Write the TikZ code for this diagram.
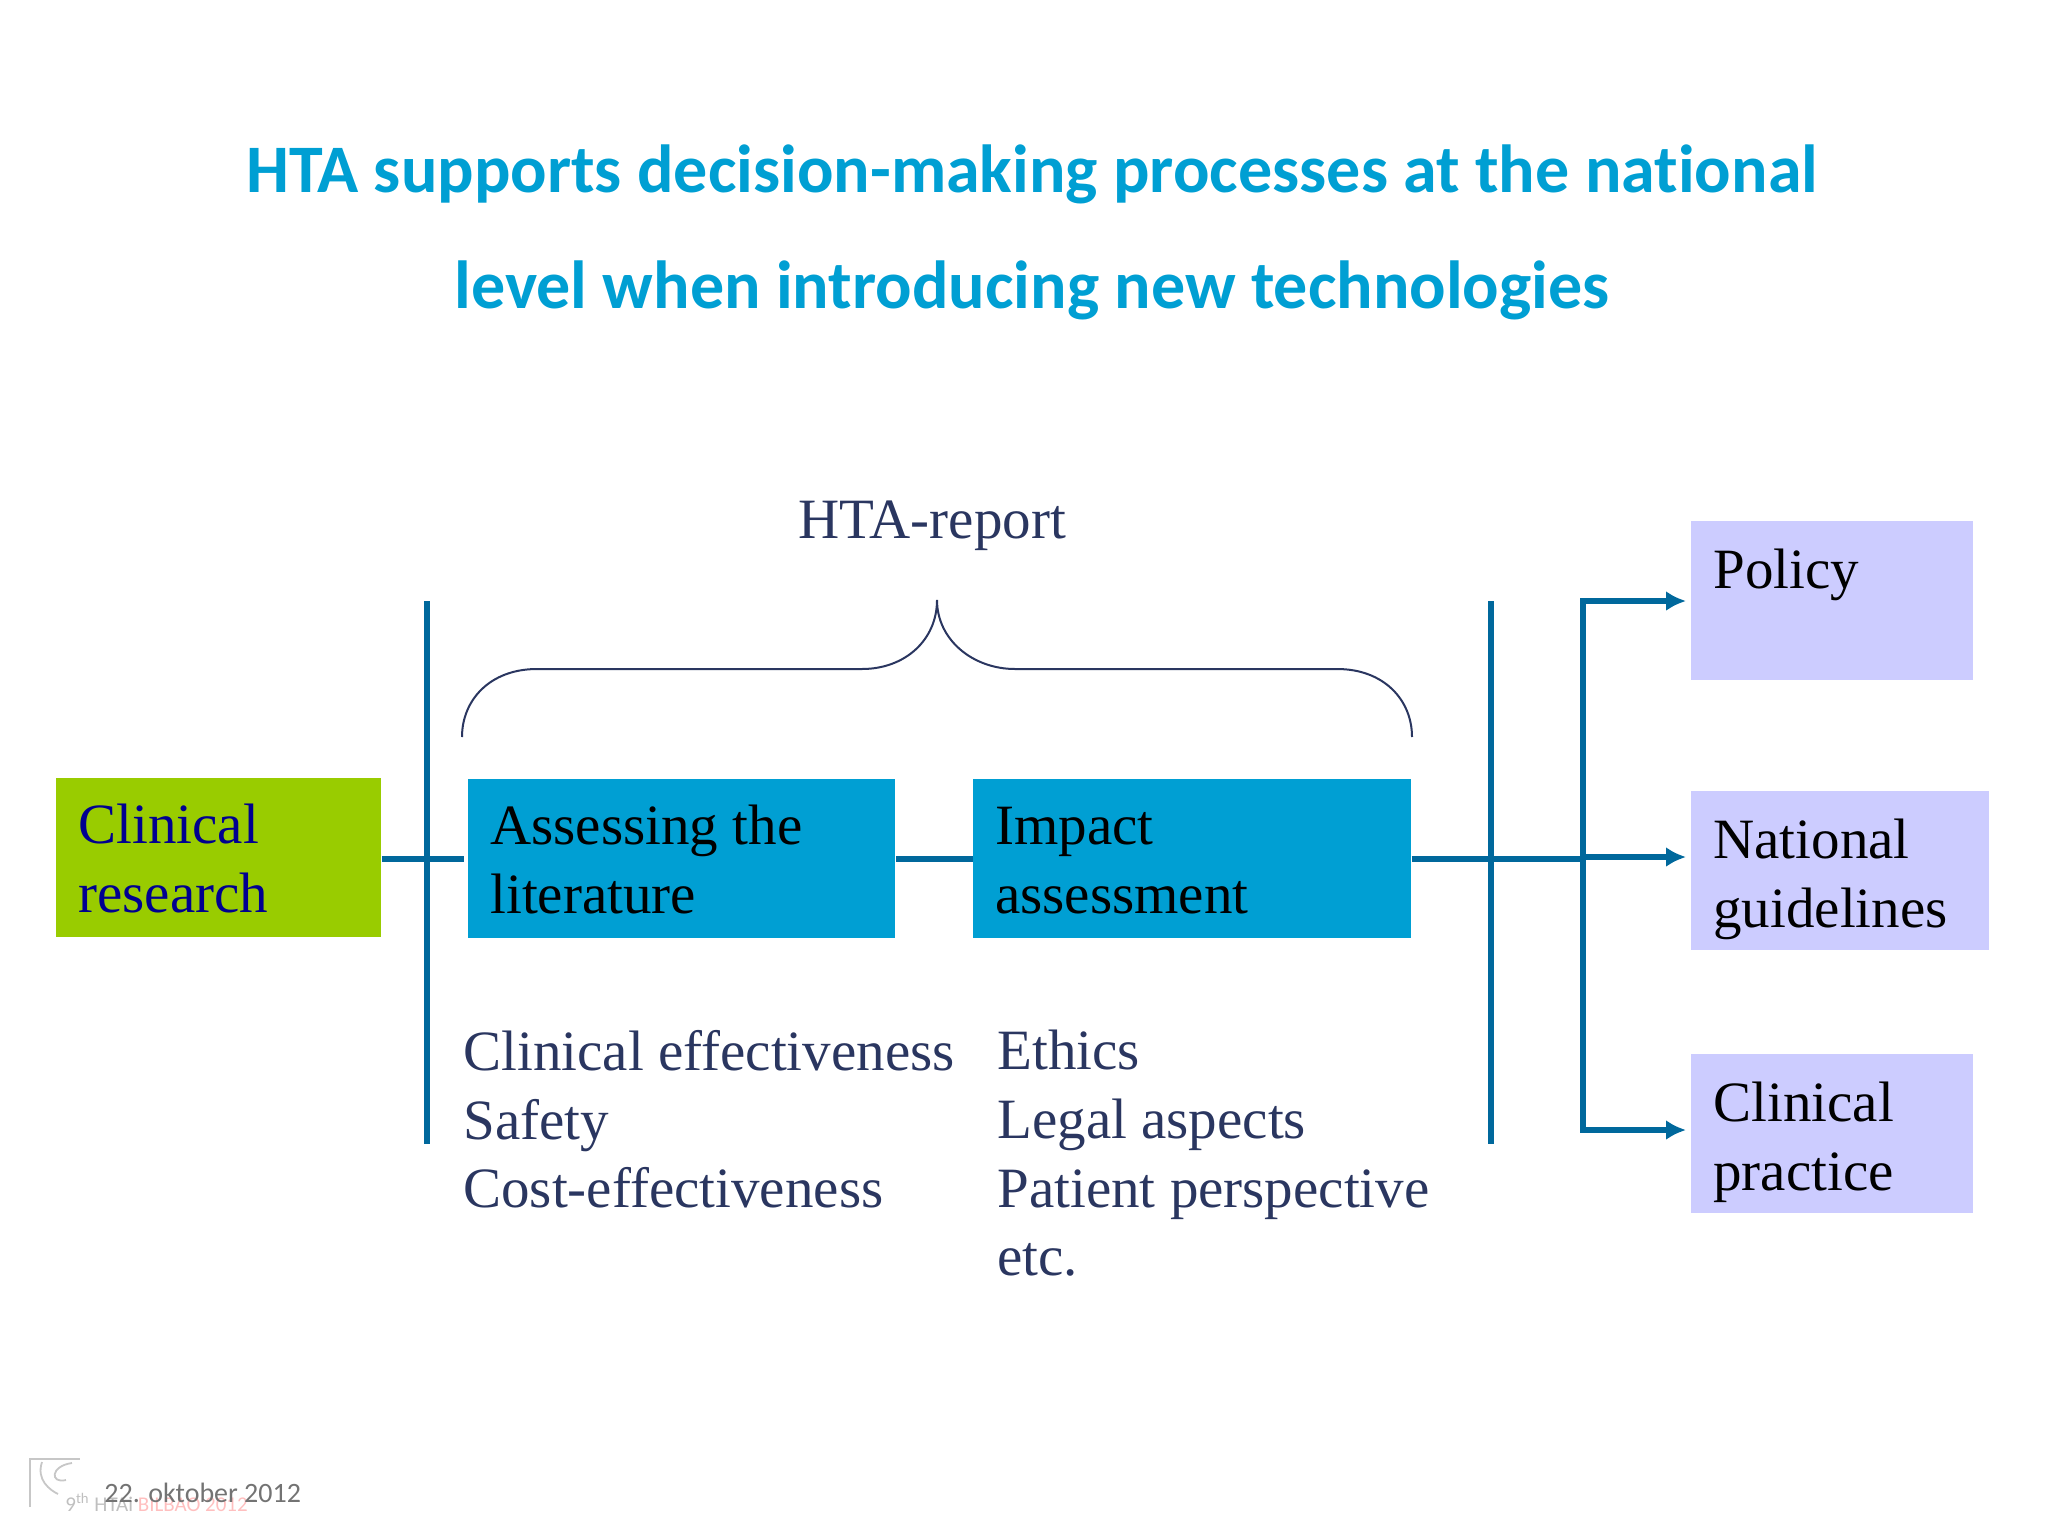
\documentclass[tikz,border=0pt]{standalone}
\usepackage{fontspec}
\setmainfont{Liberation Serif}
\newfontfamily\titlefont[Ligatures=NoCommon]{Carlito}
\usetikzlibrary{arrows.meta, positioning}
\definecolor{titleblue}{HTML}{009FD3}
\definecolor{lineblue}{HTML}{00689C}
\definecolor{slatenavy}{HTML}{2A3660}
\definecolor{limebox}{HTML}{99CC00}
\definecolor{lavender}{HTML}{CCCCFF}
\definecolor{deepblue}{HTML}{000090}
\tikzstyle{block} = [rectangle, anchor=north west, inner xsep=11pt, inner ysep=0pt, minimum height=79.5pt, text height=20pt, text depth=34pt, align=flush left, font=\fontsize{28.5}{34.3}\selectfont]
\tikzstyle{study} = [block, fill=limebox, text=deepblue, text width=140.5pt]
\tikzstyle{stage} = [block, fill=titleblue, text=black]
\tikzstyle{outcome} = [block, fill=lavender, text=black, text depth=32pt]
\tikzstyle{label} = [anchor=north west, inner sep=0pt, align=left, text=slatenavy, font=\fontsize{28.5}{34.3}\selectfont]
\tikzstyle{headline} = [inner sep=0pt, text=titleblue, font=\titlefont\bfseries\fontsize{34}{34}\selectfont]
\tikzstyle{barline} = [lineblue, line width=2.8pt]
\tikzstyle{arrow} = [barline, -{Latex[length=10pt, width=10pt]}]
\tikzstyle{logoline} = [black!22, line width=0.9pt]
\begin{document}
\begin{tikzpicture}[x=0.5pt, y=-0.5pt]
\useasboundingbox (0,0) rectangle (2048,1536);

% Title
\node (title1) [headline] at (1032,174) {HTA supports decision-making processes at the national};
\node (title2) [headline] at (1032,290) {level when introducing new technologies};

% Boxes along the line
\node (research) [study] at (56,778) {Clinical\\research};
\node (assess) [stage, text width=191.5pt] at (468,779) {Assessing the\\literature};
\node (impact) [stage, text width=197pt, right=38.5pt of assess.north east, anchor=north west] {Impact\\assessment};

% Outcome boxes
\node (policy) [outcome, text width=119pt] at (1691,521) {Policy};
\node (guidelines) [outcome, text width=127pt] at (1691,791) {National\\guidelines};
\node (practice) [outcome, text width=119pt] at (1691,1054) {Clinical\\practice};

% Texts
\node (report) [label] at (798,500) {HTA-report};
\node (effects) [label] at (463,1030) {Clinical effectiveness\\Safety\\Cost-effectiveness};
\node (aspects) [label] at (997,1030) {Ethics\\Legal aspects\\Patient perspective\\etc.};

% Bars and junction
\coordinate (bar1top) at (427,601);
\coordinate (bar1bot) at (427,1144);
\coordinate (bar2top) at (1491,601);
\coordinate (bar2bot) at (1491,1144);
\coordinate (forktop) at (1583,601);
\coordinate (forkmid) at (1583,859);
\coordinate (forkbot) at (1583,1130);
\draw [barline] (bar1top) -- (bar1bot);
\draw [barline] (bar2top) -- (bar2bot);

% Connectors
\draw [barline, shorten >=2pt] (research.east |- forkmid) -- (assess.west |- forkmid);
\draw [barline] (assess.east |- forkmid) -- (impact.west |- forkmid);
\draw [barline] (impact.east |- forkmid) -- (forkmid);

% Arrows to outcomes
\draw [arrow] (forkmid) -- (forktop) -- (1686,601);
\draw [arrow] (forkmid) -- (forkbot) -- (1686,1130);
\draw [arrow] (forkmid) ++(0,-2) -- (1686,857);

% Brace over the report
\draw [slatenavy, line width=1pt] (462,737) .. controls (462,700) and (490,669) .. (537,669) -- (862,669) .. controls (905,669) and (937,640) .. (937,600) .. controls (937,640) and (973,669) .. (1015,669) -- (1337,669) .. controls (1384,669) and (1412,700) .. (1412,737);

% Footer
\draw [logoline] (30,1507) -- (30,1459) -- (80,1459);
\draw [logoline] (42,1462) .. controls (36,1480) and (50,1490) .. (58,1494) (72,1463) .. controls (50,1466) and (50,1484) .. (66,1480);
\node (logotext) [inner sep=0pt, text=black!25, font=\titlefont\fontsize{10.5}{10.5}\selectfont, anchor=west] at (65,1502) {9\textsuperscript{th} HTAi {\color{red!25}BILBAO 2012}};
\node (date) [inner sep=0pt, text=black!55, font=\titlefont\fontsize{14}{14}\selectfont, anchor=west] at (104,1493) {22. oktober 2012};
\end{tikzpicture}
\end{document}
